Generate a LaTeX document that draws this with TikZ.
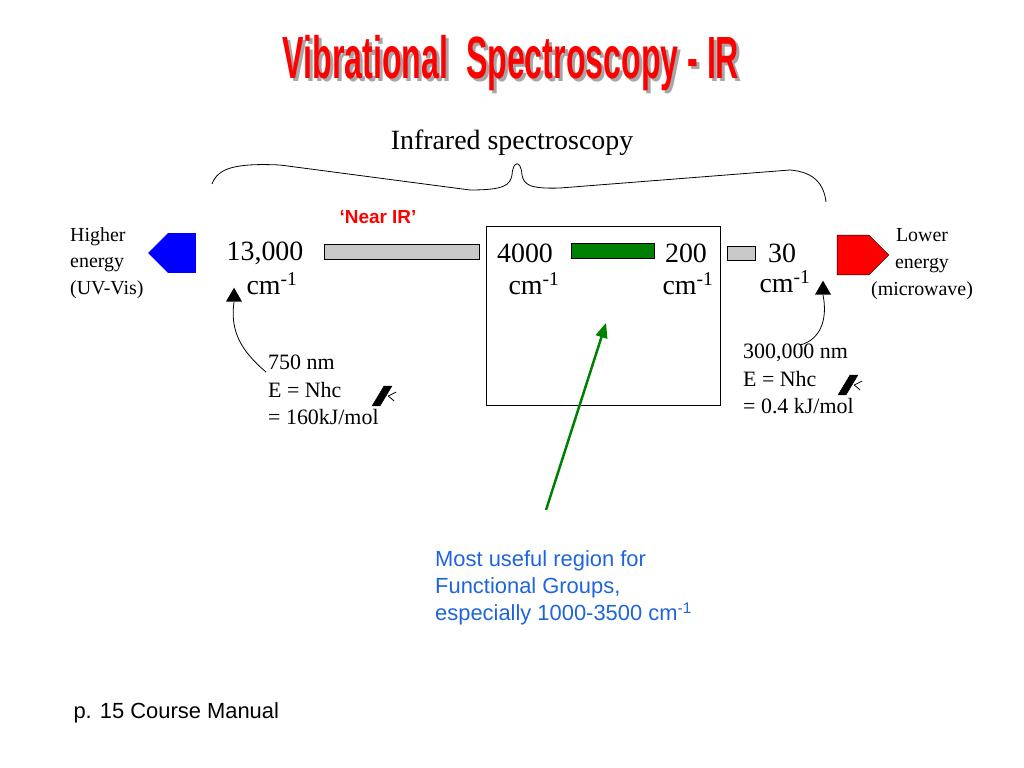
\documentclass[tikz,border=0pt]{standalone}
\usepackage{fontspec}
\setmainfont{Liberation Serif}
\setsansfont{Liberation Sans}
\usetikzlibrary{shapes.geometric, shapes.arrows, arrows, positioning}
\definecolor{mred}{HTML}{FF0000}
\definecolor{mgreen}{HTML}{008000}
\definecolor{mblue}{HTML}{0000FF}
\definecolor{mtext}{HTML}{1E64DC}
\definecolor{mgray}{HTML}{C8C8C8}
\tikzstyle{num} = [font=\fontsize{28}{30}\selectfont, inner sep=0pt]
\tikzstyle{unit} = [font=\fontsize{28}{30}\selectfont, inner sep=0pt]
\tikzstyle{side} = [font=\fontsize{20}{27}\selectfont, inner sep=0pt]
\tikzstyle{note} = [font=\fontsize{22}{27.5}\selectfont, inner sep=0pt, align=left]
\tikzstyle{bar} = [draw=black, fill=mgray, thick]
\tikzstyle{tip} = [isosceles triangle, isosceles triangle apex angle=60, shape border rotate=90, fill=black, inner sep=0pt, minimum size=14pt]
\tikzstyle{pointer} = [thick, black]
\tikzstyle{nu} = [draw=black, fill=black, xslant=0.6, minimum width=8pt, minimum height=20pt, inner sep=0pt]
\begin{document}
\begin{tikzpicture}[x=1bp, y=-1bp]
\useasboundingbox (0,0) rectangle (1024,768);
% title
\node (titleshadow) at (514,66) {\scalebox{0.62}[1.15]{\sffamily\bfseries\fontsize{52}{52}\selectfont\color{gray!70}Vibrational\ \ Spectroscopy - IR}};
\node (title) at (511,63) {\scalebox{0.62}[1.15]{\sffamily\bfseries\fontsize{52}{52}\selectfont\color{mred}Vibrational\ \ Spectroscopy - IR}};
\node (infrared) at (512,143) {\fontsize{28}{30}\selectfont Infrared spectroscopy};
% brace
\coordinate (bl) at (212,184);
\coordinate (bm) at (517,162);
\coordinate (br) at (826,202);
\draw [thick] (bl) .. controls (218,168) and (235,163) .. (280,165)
  -- (470,190) .. controls (505,190) and (510,185) .. (512,175) .. controls (513,160) and (521,160) .. (522,175)
  .. controls (524,185) and (530,189) .. (560,188) -- (790,170) .. controls (815,172) and (824,185) .. (br);
\node (nearir) at (378,217) {\sffamily\bfseries\fontsize{19}{20}\selectfont\color{mred}`Near IR'};
% left side
\node (higher) [side, align=left, anchor=north west] at (70,227) {Higher\\energy\\(UV-Vis)};
\node (bluearrow) [single arrow, fill=mblue, minimum height=48pt, minimum width=40pt, single arrow head extend=0pt, inner sep=5pt, shape border rotate=180] at (182,253) {};
\node (n13000) [num] at (265,253) {13,000};
\node (u13000) [unit] at (272,284) {cm\textsuperscript{-1}};
\node (farbar) [bar, minimum width=155pt, minimum height=15pt, inner sep=0pt] at (402,252) {};
% central box
\draw [thick] (486,226) rectangle (720,405);
\node (n4000) [num] at (525,253) {4000};
\node (u4000) [unit] at (534,284) {cm\textsuperscript{-1}};
\node (midbar) [bar, fill=mgreen, minimum width=83pt, minimum height=15pt, inner sep=0pt] at (613,251) {};
\node (n200) [num] at (686,253) {200};
\node (u200) [unit] at (688,284) {cm\textsuperscript{-1}};
% right side
\node (nearbar) [bar, minimum width=28pt, minimum height=14pt, inner sep=0pt] at (741,253) {};
\node (n30) [num] at (782,253) {30};
\node (u30) [unit] at (785,282) {cm\textsuperscript{-1}};
\node (redarrow) [single arrow, draw=black, fill=mred, minimum height=52pt, minimum width=40pt, single arrow head extend=0pt, inner sep=5pt] at (853,255) {};
\node (lower) [side, align=center] at (922,264) {Lower\\energy\\(microwave)};
% lower notes
\node (tipleft) [tip] at (234,297) {};
\node (leftnote) [note, anchor=north west] at (268,355) {750 nm\\E = Nhc\\= 160kJ/mol};
\node (nuleft) [nu] at (382,396) {};
\draw [pointer] (nuleft.east) ++(2,0) -- ++(8,-4) ++(-8,4) -- ++(6,5);
\draw [pointer] (leftnote.west) ++(-2,-18) .. controls (240,350) and (230,330) .. (tipleft.south);
\node (tipright) [tip] at (823,290) {};
\node (rightnote) [note, anchor=north west] at (743,344) {300,000 nm\\E = Nhc\\= 0.4 kJ/mol};
\node (nuright) [nu] at (848,385) {};
\draw [pointer] (nuright.east) ++(2,0) -- ++(8,-4) ++(-8,4) -- ++(6,5);
\draw [pointer] (tipright.south) .. controls (828,320) and (820,340) .. (800,345);
% useful region
\coordinate (greentail) at (546,510);
\coordinate (greenhead) at (606,323);
\draw [line width=2.5pt, mgreen, -triangle 45] (greentail) -- (greenhead);
\node (useful) [note, anchor=north west, text=mtext] at (435,550) {\sffamily Most useful region for\\\sffamily Functional Groups,\\\sffamily especially 1000-3500 cm\textsuperscript{-1}};
\node (manual) [anchor=west] at (70,713) {\sffamily\fontsize{22}{24}\selectfont p. 15 Course Manual};
\end{tikzpicture}
\end{document}
